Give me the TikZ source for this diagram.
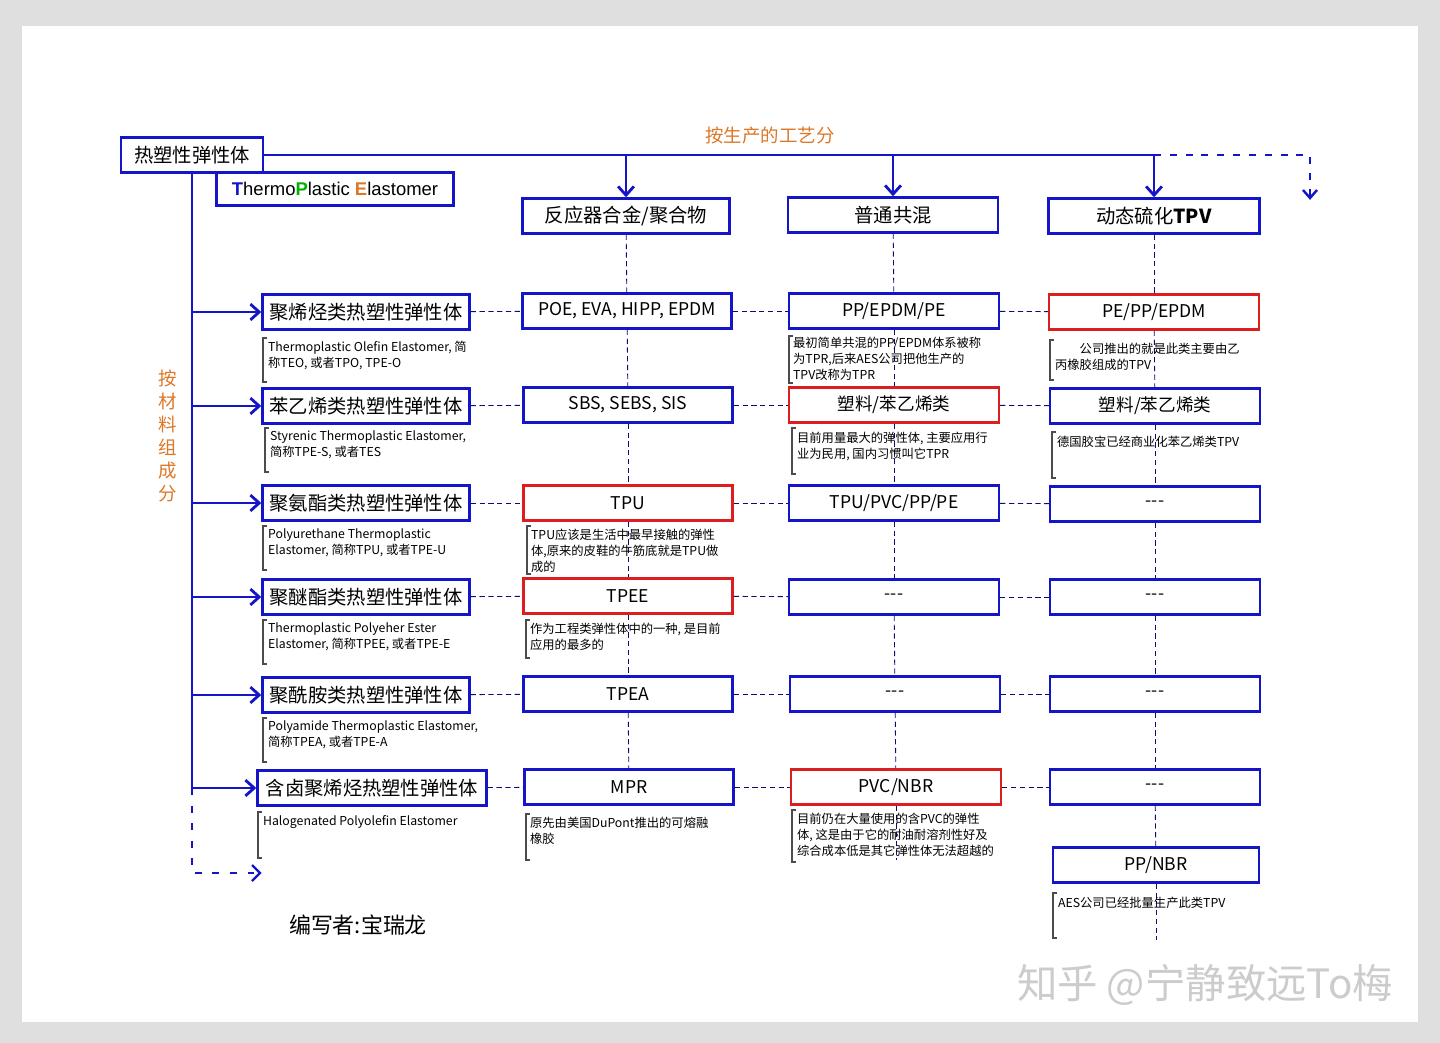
\documentclass[tikz,border=0pt]{standalone}
\usepackage{fontspec}
\setmainfont{Liberation Sans}
\newfontfamily\cjk{Noto Sans CJK SC}
\usetikzlibrary{arrows.meta}
\definecolor{bl}{RGB}{20,20,200}
\definecolor{rd}{RGB}{220,30,30}
\definecolor{og}{RGB}{220,120,40}
\begin{document}
\begin{tikzpicture}[x=0.02cm,y=-0.02cm,
  bx/.style={draw=bl,line width=1.4pt,minimum height=0.7cm,inner sep=0pt,font=\cjk\fontsize{10}{12}\selectfont},
  rbx/.style={bx,draw=rd},
  cat/.style={bx,font=\cjk\fontsize{11}{13}\selectfont},
  dl/.style={densely dashed,bl!60!black,line width=0.5pt},
  thick/.style={bl,line width=1.6pt},
  arr/.style={thick,-{Straight Barb[length=5pt,width=9pt]}},
  note/.style={anchor=north west,align=left,font=\cjk\fontsize{7}{9}\selectfont,inner sep=1pt}]
\useasboundingbox (0,0) rectangle (1440,1043);
\fill[gray!25] (0,0) rectangle (1440,1043);
\fill[white] (22,26) rectangle (1418,1022);
% top
\node[cat,minimum width=2.84cm,minimum height=0.7cm] (root) at (192,155) {热塑性弹性体};
\node[bx,minimum width=4.74cm,minimum height=0.66cm,font=\fontsize{10.5}{12}\selectfont] (tpe) at (335,189) {\textcolor{bl}{\textbf{T}}hermo\textcolor{green!70!black}{\textbf{P}}lastic \textcolor{og}{\textbf{E}}lastomer};
\node[text=og,font=\cjk\fontsize{10.5}{12}\selectfont] (lab1) at (770,136) {按生产的工艺分};
\node[text=og,font=\cjk\fontsize{10.5}{12}\selectfont,align=center] (lab2) at (168,436) {按\\[1pt]材\\[1pt]料\\[1pt]组\\[1pt]成\\[1pt]分};
% headers
\node[cat,minimum width=4.14cm] (h1) at (626,216) {反应器合金/聚合物};
\node[cat,minimum width=4.2cm] (h2) at (893,215) {普通共混};
\node[cat,minimum width=4.22cm] (h3) at (1154,216) {动态硫化\textbf{TPV}};
\coordinate (j1) at (626,155);\coordinate (j2) at (893,155);\coordinate (j3) at (1154,155);
\coordinate (e1) at (1310,155);\coordinate (e2) at (1310,200);
\draw[thick] (root.east) -- (j3);
\draw[arr] (j1) -- (h1.north);
\draw[arr] (j2) -- (h2.north);
\draw[arr] (j3) -- (h3.north);
\draw[bl,line width=1.6pt,dash pattern=on 4pt off 5pt] (j3) -- (e1) -- (e2);
\draw[bl,line width=1.4pt] (1303,190) -- (1310,198) -- (1317,190);
% rows
\foreach \n/\y/\t in {1/312/聚烯烃类热塑性弹性体,2/406/苯乙烯类热塑性弹性体,3/503/聚氨酯类热塑性弹性体,4/597/聚醚酯类热塑性弹性体,5/695/聚酰胺类热塑性弹性体}
  \node[cat,minimum width=4.14cm] (L\n) at (366,\y) {\t};
\node[cat,minimum width=4.58cm] (L6) at (372,788) {含卤聚烯烃热塑性弹性体};
% columns
\node[bx,minimum width=4.18cm] (a1) at (627,311) {POE, EVA, HIPP, EPDM};
\node[bx,minimum width=4.18cm] (a2) at (628,405) {SBS, SEBS, SIS};
\node[rbx,minimum width=4.18cm] (a3) at (628,503) {TPU};
\node[rbx,minimum width=4.18cm] (a4) at (628,596) {TPEE};
\node[bx,minimum width=4.18cm] (a5) at (628,694) {TPEA};
\node[bx,minimum width=4.18cm] (a6) at (629,787) {MPR};
\node[bx,minimum width=4.2cm] (b1) at (894,311) {PP/EPDM/PE};
\node[rbx,minimum width=4.2cm] (b2) at (894,405) {塑料/苯乙烯类};
\node[bx,minimum width=4.2cm] (b3) at (894,503) {TPU/PVC/PP/PE};
\node[bx,minimum width=4.2cm] (b4) at (894,597) {---};
\node[bx,minimum width=4.2cm] (b5) at (895,694) {---};
\node[rbx,minimum width=4.2cm] (b6) at (896,787) {PVC/NBR};
\node[rbx,minimum width=4.2cm] (c1) at (1154,312) {PE/PP/EPDM};
\node[bx,minimum width=4.2cm] (c2) at (1155,406) {塑料/苯乙烯类};
\node[bx,minimum width=4.2cm] (c3) at (1155,504) {---};
\node[bx,minimum width=4.2cm] (c4) at (1155,597) {---};
\node[bx,minimum width=4.2cm] (c5) at (1155,694) {---};
\node[bx,minimum width=4.2cm] (c6) at (1155,787) {---};
\node[bx,minimum width=4.12cm] (c7) at (1156,865) {PP/NBR};
% left trunk
\coordinate (t0) at (192,172);\coordinate (t6) at (192,788);
\coordinate (t7) at (192,873);\coordinate (t8) at (262,873);
\draw[thick] (t0) -- (t6);
\foreach \n/\y in {1/312,2/406,3/503,4/597,5/695,6/788}
  \draw[arr] (192,\y) -- (L\n.west);
\draw[bl,line width=1.6pt,dash pattern=on 4pt off 6pt] (t6) -- (t7) -- (254,873);
\draw[bl,line width=1.4pt] (252,865) -- (260,873) -- (252,881);
% dotted
\foreach \n in {1,...,6}{\draw[dl] (L\n) -- (a\n); \draw[dl] (a\n) -- (b\n); \draw[dl] (b\n) -- (c\n);}
\draw[dl] (h1) -- (a1); \draw[dl] (h2) -- (b1); \draw[dl] (h3) -- (c1);
\foreach \n/\m in {1/2,2/3,3/4,4/5,5/6}{\draw[dl] (a\n) -- (a\m); \draw[dl] (b\n) -- (b\m); \draw[dl] (c\n) -- (c\m);}
\coordinate (bb) at (896,860); \coordinate (cb) at (1156,940);
\draw[dl] (b6) -- (bb); \draw[dl] (c6) -- (c7); \draw[dl] (c7) -- (cb);
% notes
\newcommand\brk[3]{\draw[black!70,line width=0.6pt] (#1+4,#2) -- (#1,#2) -- (#1,#3) -- (#1+4,#3);}
\brk{263}{338}{382}\node[note] (n1) at (266,339) {Thermoplastic Olefin Elastomer, 简\\称TEO, 或者TPO, TPE-O};
\brk{265}{428}{472}\node[note] (n2) at (268,429) {Styrenic Thermoplastic Elastomer,\\简称TPE-S, 或者TES};
\brk{263}{526}{570}\node[note] (n3) at (266,527) {Polyurethane Thermoplastic\\Elastomer, 简称TPU, 或者TPE-U};
\brk{263}{620}{664}\node[note] (n4) at (266,621) {Thermoplastic Polyeher Ester\\Elastomer, 简称TPEE, 或者TPE-E};
\brk{263}{718}{762}\node[note] (n5) at (266,719) {Polyamide Thermoplastic Elastomer,\\简称TPEA, 或者TPE-A};
\brk{258}{812}{858}\node[note] (n6) at (261,813) {Halogenated Polyolefin Elastomer};
\brk{789}{336}{383}\node[note] (n7) at (791,335) {最初简单共混的PP/EPDM体系被称\\为TPR,后来AES公司把他生产的\\TPV改称为TPR};
\brk{1050}{340}{380}\node[note] (n8) at (1053,341) {\hspace{2em}公司推出的就是此类主要由乙\\丙橡胶组成的TPV};
\brk{792}{428}{474}\node[note] (n9) at (795,430) {目前用量最大的弹性体, 主要应用行\\业为民用, 国内习惯叫它TPR};
\brk{1052}{432}{478}\node[note] (n10) at (1055,434) {德国胶宝已经商业化苯乙烯类TPV};
\brk{527}{526}{574}\node[note] (n11) at (529,527) {TPU应该是生活中最早接触的弹性\\体,原来的皮鞋的牛筋底就是TPU做\\成的};
\brk{526}{620}{658}\node[note] (n12) at (528,621) {作为工程类弹性体中的一种, 是目前\\应用的最多的};
\brk{526}{814}{860}\node[note] (n13) at (528,815) {原先由美国DuPont推出的可熔融\\橡胶};
\brk{792}{810}{862}\node[note] (n14) at (795,811) {目前仍在大量使用的含PVC的弹性\\体, 这是由于它的耐油耐溶剂性好及\\综合成本低是其它弹性体无法超越的};
\brk{1053}{893}{938}\node[note] (n15) at (1056,895) {AES公司已经批量生产此类TPV};
\node[font=\cjk\fontsize{12.5}{14}\selectfont] (auth) at (358,925) {编写者:宝瑞龙};
\node[text=black!20,font=\cjk\fontsize{23}{26}\selectfont] (wm) at (1205,985) {知乎 @宁静致远To梅};
\end{tikzpicture}
\end{document}
